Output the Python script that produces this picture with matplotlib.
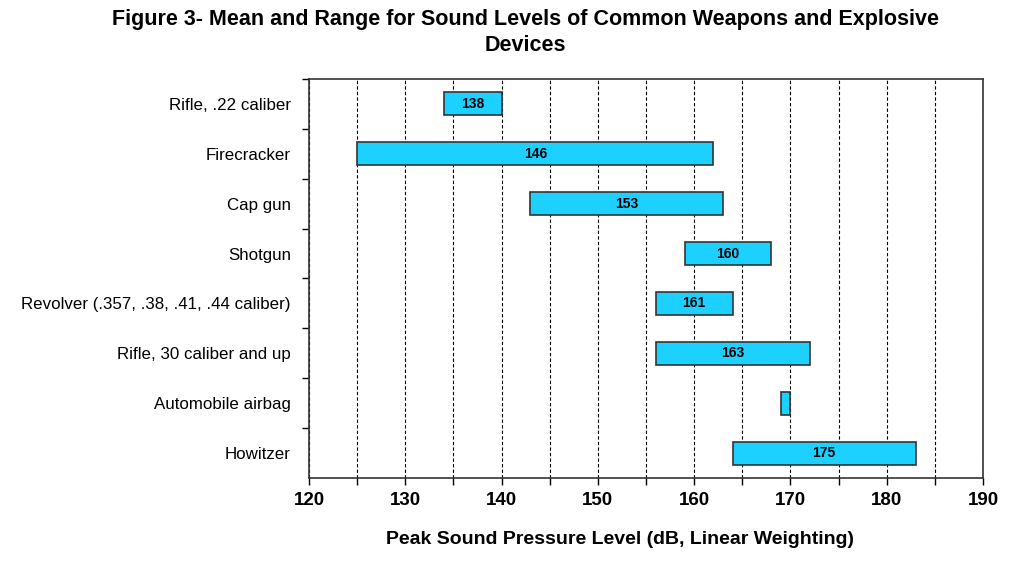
import matplotlib.pyplot as plt
from matplotlib.ticker import MultipleLocator

plt.rcParams['font.family'] = ['Liberation Sans', 'DejaVu Sans']

# datos
categorias = ['Rifle, .22 caliber', 'Firecracker', 'Cap gun', 'Shotgun',
              'Revolver (.357, .38, .41, .44 caliber)', 'Rifle, 30 caliber and up',
              'Automobile airbag', 'Howitzer']
minimos = [134, 125, 143, 159, 156, 156, 169, 164]
maximos = [140, 162, 163, 168, 164, 172, 170, 183]
medias = [138, 146, 153, 160, 161, 163, None, 175]

fig = plt.figure(figsize=(10.24, 5.68), dpi=100)
ax = fig.add_axes([0.3018, 0.1585, 0.6582, 0.7025])

pos = list(range(len(categorias)))
anchos = [mx - mn for mn, mx in zip(minimos, maximos)]
ax.barh(pos, anchos, left=minimos, height=0.46, color='#1CD1FF',
        edgecolor='#333333', linewidth=1.2, zorder=3)

# etiqueta de la media en el centro de cada barra
for p, mn, mx, m in zip(pos, minimos, maximos, medias):
    if m is None:
        continue
    ax.text((mn + mx) / 2, p, str(m), ha='center', va='center',
            fontsize=10, fontweight='bold', zorder=4)

ax.set_xlim(120, 190)
ax.set_ylim(len(categorias) - 0.5, -0.5)
ax.xaxis.set_major_locator(MultipleLocator(10))
ax.xaxis.set_minor_locator(MultipleLocator(5))
ax.grid(True, which='both', axis='x', linestyle=(0, (3, 2)), color='black',
        linewidth=0.8, zorder=0)

ax.set_yticks(pos)
ax.set_yticklabels(categorias, fontsize=12.2)
ax.tick_params(axis='y', length=0, pad=13)
ax.set_yticks([p + 0.5 for p in pos[:-1]] + [-0.5], minor=True)
ax.tick_params(axis='y', which='minor', length=5, width=1, direction='out')
ax.tick_params(axis='x', which='major', length=5, width=1, labelsize=13.5, pad=5)
ax.tick_params(axis='x', which='minor', length=5, width=1)
for lbl in ax.get_xticklabels():
    lbl.set_fontweight('bold')

for s in ax.spines.values():
    s.set_linewidth(1.2)
    s.set_color('#333333')

fig.text(0.513, 0.985, 'Figure 3- Mean and Range for Sound Levels of Common Weapons and Explosive\nDevices',
         ha='center', va='top', fontsize=15.5, fontweight='bold', linespacing=1.35)
fig.text(0.605, 0.05, 'Peak Sound Pressure Level (dB, Linear Weighting)',
         ha='center', va='center', fontsize=14, fontweight='bold')

fig.savefig('out.png', dpi=100)
